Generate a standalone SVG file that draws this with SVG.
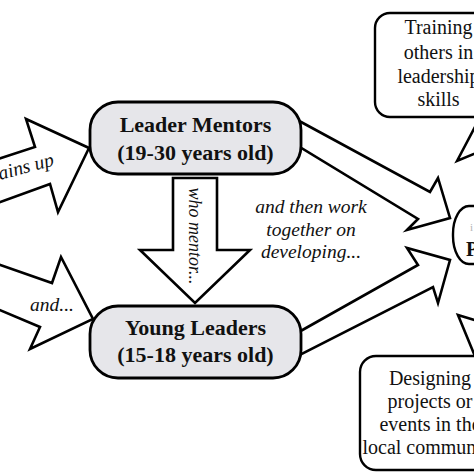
<svg xmlns="http://www.w3.org/2000/svg" width="474" height="474" viewBox="0 0 474 474">
<style>
.arrow{fill:#ffffff;stroke:#000;stroke-width:2.6;stroke-linejoin:miter;stroke-miterlimit:10}
.pill{fill:#e6e6ea;stroke:#000;stroke-width:2.8}
.box{fill:#ffffff;stroke:#000;stroke-width:2.4}
.bold{font-family:"Liberation Serif","Times New Roman",serif;font-weight:bold;font-size:22px;fill:#111;text-anchor:middle}
.reg{font-family:"Liberation Serif","Times New Roman",serif;font-size:20px;fill:#111;text-anchor:middle}
.ital{font-family:"Liberation Serif","Times New Roman",serif;font-style:italic;font-size:19.5px;fill:#111}
</style>
<rect x="0" y="0" width="474" height="474" fill="#ffffff"/>
<g id="connectors">
  <polygon class="arrow" points="-5,160 35,147 26,119 89,148 58,212 50,184 -5,204"/>
  <polygon class="arrow" points="-5,263 52,283 61,257 93,319 30,349 40,327 -5,308"/>
  <polygon class="arrow" points="173,178 217,178 217,250 250,250 195,303 140,250 173,250"/>
  <polygon class="arrow" points="290,116 430,192 438,178 450,218 407,230 418,219 290,141"/>
  <polygon class="arrow" points="290,337 418,265 407,248 450,260 438,303 433,287 290,360"/>
  <polygon class="arrow" points="457,161 486,106 520,150 500,158 500,210 481,210 481,151"/>
  <polygon class="arrow" points="458,315 481,322 481,270 505,270 505,330 520,335 486,383"/>
</g>
<g id="labels">
  <text class="ital" transform="translate(0,180) rotate(-15)" font-size="18">ains up</text>
  <text class="ital" x="30" y="311">and...</text>
  <text class="ital" transform="translate(189,236) rotate(90)" text-anchor="middle" style="font-size:18px">who mentor...</text>
  <text class="ital" x="311" y="213" text-anchor="middle">and then work</text>
  <text class="ital" x="311" y="236" text-anchor="middle">together on</text>
  <text class="ital" x="311" y="258" text-anchor="middle">developing...</text>
</g>
<g id="leader-mentors">
  <rect class="pill" x="90" y="102" width="211" height="72" rx="28" ry="28"/>
  <text class="bold" x="195.5" y="132">Leader Mentors</text>
  <text class="bold" x="195.5" y="160">(19-30 years old)</text>
</g>
<g id="young-leaders">
  <rect class="pill" x="90" y="306" width="211" height="72" rx="28" ry="28"/>
  <text class="bold" x="195.5" y="335">Young Leaders</text>
  <text class="bold" x="195.5" y="362">(15-18 years old)</text>
</g>
<g id="center-node">
  <rect class="box" x="453" y="206" width="80" height="58" rx="16" ry="28"/>
  <text x="470" y="231" font-family="Liberation Serif, serif" font-size="11" fill="#b4b4b4">i</text>
  <text x="466" y="256" font-family="Liberation Serif, serif" font-weight="bold" font-size="20" fill="#111">P</text>
</g>
<g id="training">
  <rect class="box" x="375" y="13" width="140" height="104" rx="15" ry="15"/>
  <text class="reg" x="438.5" y="34">Training</text>
  <text class="reg" x="438.5" y="59">others in</text>
  <text class="reg" x="438.5" y="83">leadership</text>
  <text class="reg" x="438.5" y="106">skills</text>
</g>
<g id="designing">
  <rect class="box" x="360" y="356" width="160" height="114" rx="16" ry="16"/>
  <text class="reg" x="430" y="385">Designing</text>
  <text class="reg" x="430" y="408">projects or</text>
  <text class="reg" x="430" y="431">events in the</text>
  <text class="reg" x="430" y="454">local community</text>
</g>
</svg>
